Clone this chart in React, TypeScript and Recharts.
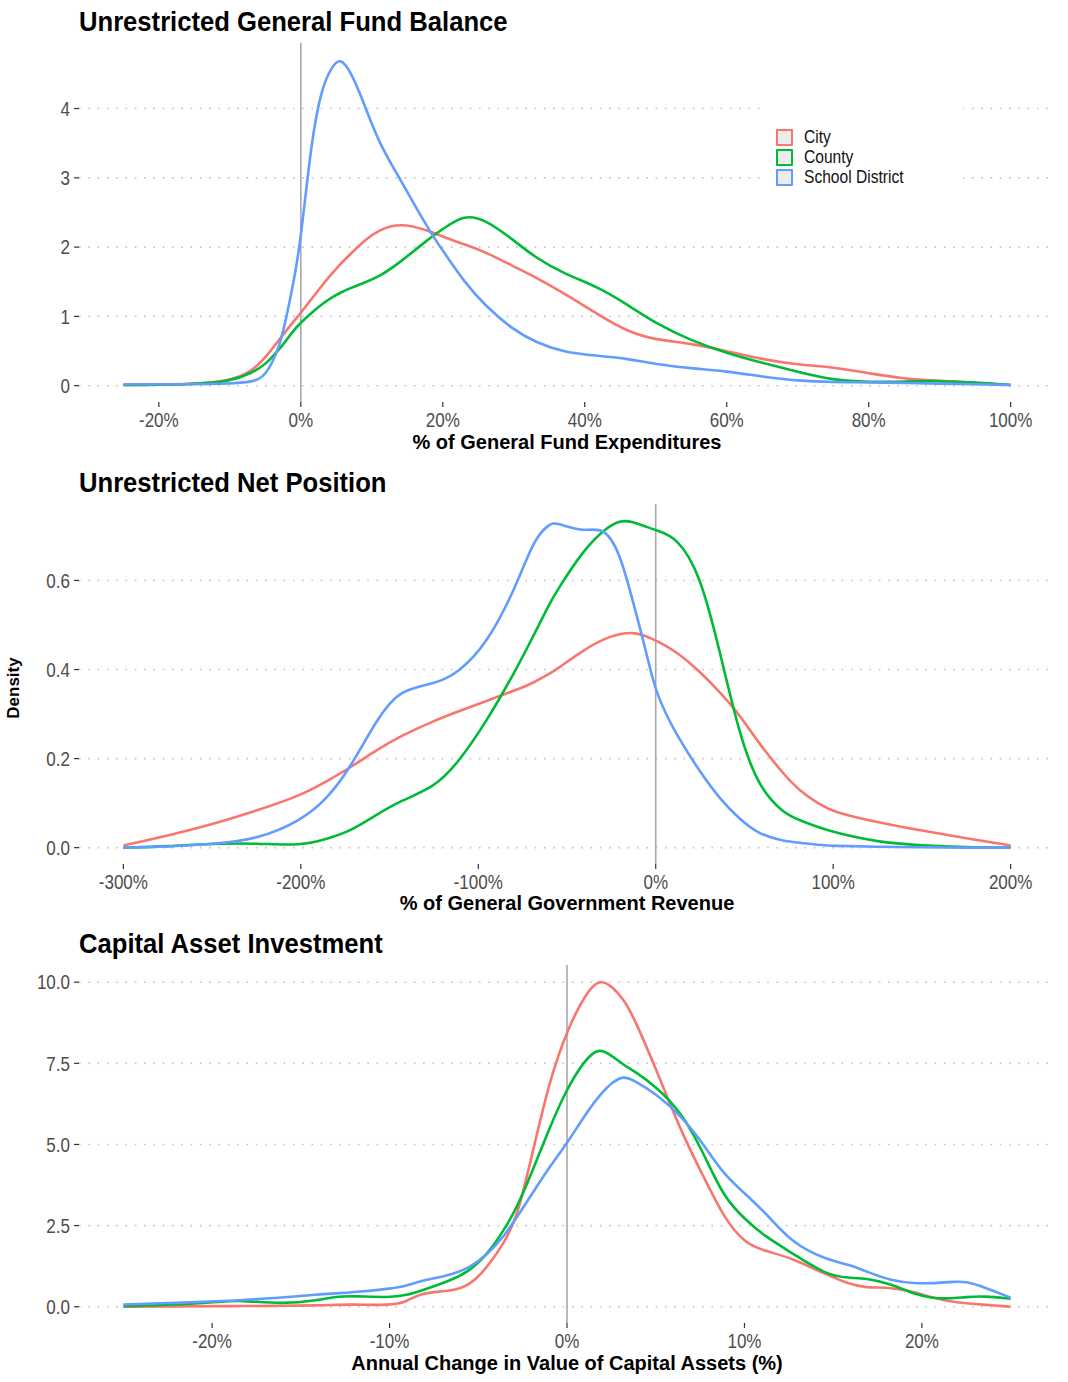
import React from "react";
import { LineChart, Line, XAxis, YAxis, ReferenceLine } from "recharts";

const FONT = "'Liberation Sans', Arial, sans-serif";
const SERIES = ["City", "County", "School District"];
const COLORS: Record<string, string> = {
  City: "#F8766D",
  County: "#00BA38",
  "School District": "#619CFF",
};

// Unrestricted General Fund Balance (% of GF expenditures)
const fundX = [-25, -15, -10, -7, -5, -3, -2, -1, 0, 1.5, 3, 4.5, 5.5, 7, 9, 11, 14, 18, 20, 23, 26, 30, 33, 37, 42, 46, 50, 55, 60, 65, 70, 75, 80, 85, 90, 95, 100];
const fundCity = [0.01, 0.02, 0.07, 0.2, 0.4, 0.67, 0.8, 0.93, 1.05, 1.25, 1.45, 1.63, 1.75, 1.9, 2.1, 2.25, 2.35, 2.24, 2.15, 2.04, 1.93, 1.72, 1.57, 1.34, 1.02, 0.78, 0.66, 0.61, 0.5, 0.38, 0.3, 0.27, 0.18, 0.1, 0.07, 0.04, 0.01];
const fundCounty = [0.01, 0.02, 0.06, 0.18, 0.3, 0.53, 0.66, 0.8, 0.91, 1.05, 1.18, 1.28, 1.34, 1.41, 1.49, 1.57, 1.78, 2.12, 2.26, 2.47, 2.4, 2.1, 1.85, 1.62, 1.42, 1.17, 0.9, 0.65, 0.47, 0.33, 0.2, 0.08, 0.05, 0.06, 0.07, 0.05, 0.01];
const fundSchool = [0.02, 0.02, 0.03, 0.05, 0.12, 0.55, 1.0, 1.5, 2.1, 3.55, 4.33, 4.62, 4.73, 4.55, 4.05, 3.5, 2.98, 2.25, 1.95, 1.5, 1.15, 0.8, 0.63, 0.48, 0.43, 0.39, 0.31, 0.25, 0.21, 0.13, 0.07, 0.05, 0.05, 0.04, 0.03, 0.02, 0.01];

// Unrestricted Net Position (% of general government revenue)
const netX = [-300, -275, -250, -225, -200, -185, -172, -157, -144, -125, -112, -95, -78, -69, -60, -56, -41, -29, -20, -13, -5, 0, 12, 25, 36, 47, 58, 72, 81, 92, 100, 125, 150, 175, 200];
const netCity = [0.005, 0.027, 0.052, 0.083, 0.117, 0.15, 0.18, 0.22, 0.25, 0.285, 0.305, 0.33, 0.355, 0.37, 0.39, 0.4, 0.443, 0.47, 0.48, 0.484, 0.475, 0.465, 0.44, 0.395, 0.35, 0.3, 0.235, 0.165, 0.128, 0.098, 0.08, 0.057, 0.038, 0.021, 0.005];
const netCounty = [0.0, 0.003, 0.009, 0.01, 0.004, 0.02, 0.037, 0.075, 0.105, 0.135, 0.187, 0.285, 0.405, 0.475, 0.547, 0.575, 0.667, 0.715, 0.736, 0.732, 0.72, 0.713, 0.697, 0.615, 0.443, 0.255, 0.135, 0.077, 0.062, 0.045, 0.035, 0.012, 0.005, 0.001, 0.0];
const netSchool = [0.0, 0.002, 0.008, 0.018, 0.06, 0.11, 0.18, 0.29, 0.356, 0.367, 0.39, 0.457, 0.592, 0.69, 0.728, 0.73, 0.708, 0.722, 0.66, 0.555, 0.435, 0.345, 0.25, 0.17, 0.11, 0.065, 0.03, 0.015, 0.011, 0.006, 0.004, 0.002, 0.001, 0.0, 0.0];

// Capital Asset Investment (annual % change in capital assets)
const capX = [-25, -22, -19.5, -18.5, -16, -14, -13, -12, -10, -9, -8.3, -6.5, -5.5, -4.5, -3.5, -2.8, -2, -1, 0, 1, 1.8, 2.6, 3.2, 3.7, 5, 6.5, 7.7, 8.8, 10, 11.2, 12.7, 14.6, 15.9, 16.8, 18.3, 19.6, 20.6, 21.5, 22.5, 23.5, 25];
const capCity = [0.0, 0.01, 0.02, 0.02, 0.03, 0.04, 0.06, 0.07, 0.04, 0.15, 0.43, 0.48, 0.65, 1.2, 2.0, 2.78, 4.6, 6.95, 8.52, 9.6, 10.12, 9.85, 9.45, 9.0, 7.35, 5.3, 4.01, 2.78, 1.95, 1.71, 1.5, 0.99, 0.7, 0.58, 0.6, 0.45, 0.28, 0.17, 0.1, 0.06, 0.0];
const capCounty = [0.02, 0.06, 0.15, 0.2, 0.08, 0.2, 0.32, 0.33, 0.28, 0.36, 0.48, 0.82, 1.1, 1.6, 2.4, 3.09, 4.1, 5.5, 6.73, 7.6, 8.0, 7.7, 7.45, 7.29, 6.8, 5.96, 4.73, 3.4, 2.7, 2.15, 1.65, 0.98, 0.88, 0.89, 0.7, 0.38, 0.26, 0.25, 0.3, 0.33, 0.25];
const capSchool = [0.07, 0.12, 0.17, 0.2, 0.28, 0.38, 0.41, 0.45, 0.55, 0.65, 0.79, 0.98, 1.2, 1.6, 2.2, 2.78, 3.45, 4.3, 5.03, 5.9, 6.5, 6.95, 7.1, 7.0, 6.57, 5.85, 5.0, 4.1, 3.5, 2.89, 1.95, 1.45, 1.3, 1.1, 0.79, 0.72, 0.72, 0.76, 0.79, 0.6, 0.28];

const rows = (xs: number[], city: number[], county: number[], school: number[]) =>
  xs.map((x, i) => ({ x, City: city[i], County: county[i], "School District": school[i] }));

const makeTick = (fmt: (v: number) => string, axis: "x" | "y") => (props: any) => {
  const { x, y, payload } = props;
  return (
    <text
      transform={`translate(${x},${y}) scale(0.83,1)`}
      textAnchor={axis === "x" ? "middle" : "end"}
      dy={axis === "x" ? "0.71em" : "0.355em"}
      fill="#4d4d4d"
      fontSize={20.5}
      fontFamily={FONT}
    >
      {fmt(payload.value)}
    </text>
  );
};

type PanelProps = {
  top: number;
  height: number;
  marginTop: number;
  xAxisHeight: number;
  data: any[];
  xDomain: [number, number];
  xTicks: number[];
  yDomain: [number, number];
  yTicks: number[];
  yFmt: (v: number) => string;
  title: string;
  titleTop: number;
  xTitle: string;
  xTitleTop: number;
};

function Panel(p: PanelProps) {
  return (
    <>
      <div
        style={{
          position: "absolute",
          left: 79,
          top: p.titleTop,
          fontFamily: FONT,
          fontWeight: "bold",
          fontSize: 28,
          lineHeight: "30px",
          color: "#000",
          whiteSpace: "nowrap",
          transform: "scaleX(0.915)",
          transformOrigin: "left center",
        }}
      >
        {p.title}
      </div>
      <div style={{ position: "absolute", left: 0, top: p.top }}>
        <LineChart
          width={1068}
          height={p.height}
          data={p.data}
          margin={{ top: p.marginTop, right: 13, bottom: 0, left: 0 }}
        >
          <XAxis
            dataKey="x"
            type="number"
            domain={p.xDomain}
            ticks={p.xTicks}
            allowDataOverflow
            axisLine={false}
            tickLine={{ stroke: "#333", strokeWidth: 1.2 }}
            tickSize={5}
            tickMargin={5}
            height={p.xAxisHeight}
            tick={makeTick((v) => `${v}%`, "x")}
            interval={0}
          />
          <YAxis
            type="number"
            domain={p.yDomain}
            ticks={p.yTicks}
            allowDataOverflow
            axisLine={false}
            tickLine={{ stroke: "#333", strokeWidth: 1.2 }}
            tickSize={5}
            tickMargin={4}
            width={79}
            tick={makeTick(p.yFmt, "y")}
            interval={0}
          />
          {p.yTicks.map((t) => (
            <ReferenceLine key={`g${t}`} y={t} stroke="#c4c4c4" strokeWidth={1.6} strokeDasharray="1.6 7.7" />
          ))}
          <ReferenceLine x={0} stroke="#a8a8a8" strokeWidth={1.6} />
          {SERIES.map((s) => (
            <Line
              key={s}
              dataKey={s}
              type="basis"
              stroke={COLORS[s]}
              strokeWidth={2.6}
              dot={false}
              activeDot={false}
              isAnimationActive={false}
            />
          ))}
        </LineChart>
      </div>
      <div
        style={{
          position: "absolute",
          left: 567,
          top: p.xTitleTop,
          transform: "translateX(-50%)",
          fontFamily: FONT,
          fontWeight: "bold",
          fontSize: 20,
          lineHeight: "20px",
          color: "#000",
          whiteSpace: "nowrap",
        }}
      >
        {p.xTitle}
      </div>
    </>
  );
}

function LegendBox() {
  return (
    <div
      style={{
        position: "absolute",
        left: 763,
        top: 100,
        width: 200,
        height: 92,
        background: "#fff",
        zIndex: 2,
        fontFamily: FONT,
        fontSize: 17.5,
      }}
    >
      {SERIES.map((s, i) => (
        <div
          key={s}
          style={{ position: "absolute", left: 13, top: 27 + i * 20, height: 20, display: "flex", alignItems: "center" }}
        >
          <div
            style={{
              width: 13,
              height: 13,
              border: `2.5px solid ${COLORS[s]}`,
              background: "#ececec",
              borderRadius: 1,
            }}
          />
          <span
            style={{
              marginLeft: 11,
              color: "#111",
              lineHeight: "20px",
              whiteSpace: "nowrap",
              display: "inline-block",
              transform: "scaleX(0.89)",
              transformOrigin: "left center",
            }}
          >
            {s}
          </span>
        </div>
      ))}
    </div>
  );
}

export default function App() {
  return (
    <div style={{ position: "absolute", left: 0, top: 0, width: 1068, height: 1382, background: "#fff", overflow: "hidden" }}>
      <Panel
        top={0}
        height={460}
        marginTop={43}
        xAxisHeight={58}
        data={rows(fundX, fundCity, fundCounty, fundSchool)}
        xDomain={[-31.25, 106.25]}
        xTicks={[-20, 0, 20, 40, 60, 80, 100]}
        yDomain={[-0.2355, 4.946]}
        yTicks={[0, 1, 2, 3, 4]}
        yFmt={(v) => `${v}`}
        title="Unrestricted General Fund Balance"
        titleTop={7}
        xTitle="% of General Fund Expenditures"
        xTitleTop={432}
      />
      <Panel
        top={470}
        height={460}
        marginTop={34}
        xAxisHeight={66}
        data={rows(netX, netCity, netCounty, netSchool)}
        xDomain={[-325, 225]}
        xTicks={[-300, -200, -100, 0, 100, 200]}
        yDomain={[-0.0367, 0.7717]}
        yTicks={[0, 0.2, 0.4, 0.6]}
        yFmt={(v) => v.toFixed(1)}
        title="Unrestricted Net Position"
        titleTop={468}
        xTitle="% of General Government Revenue"
        xTitleTop={893}
      />
      <Panel
        top={930}
        height={452}
        marginTop={35}
        xAxisHeight={59}
        data={rows(capX, capCity, capCounty, capSchool)}
        xDomain={[-27.5, 27.5]}
        xTicks={[-20, -10, 0, 10, 20]}
        yDomain={[-0.5015, 10.53]}
        yTicks={[0, 2.5, 5, 7.5, 10]}
        yFmt={(v) => v.toFixed(1)}
        title="Capital Asset Investment"
        titleTop={929}
        xTitle="Annual Change in Value of Capital Assets (%)"
        xTitleTop={1353}
      />
      <LegendBox />
      <div
        style={{
          position: "absolute",
          left: 14,
          top: 688,
          transform: "translate(-50%, -50%) rotate(-90deg)",
          fontFamily: FONT,
          fontWeight: "bold",
          fontSize: 17,
          whiteSpace: "nowrap",
        }}
      >
        Density
      </div>
    </div>
  );
}
